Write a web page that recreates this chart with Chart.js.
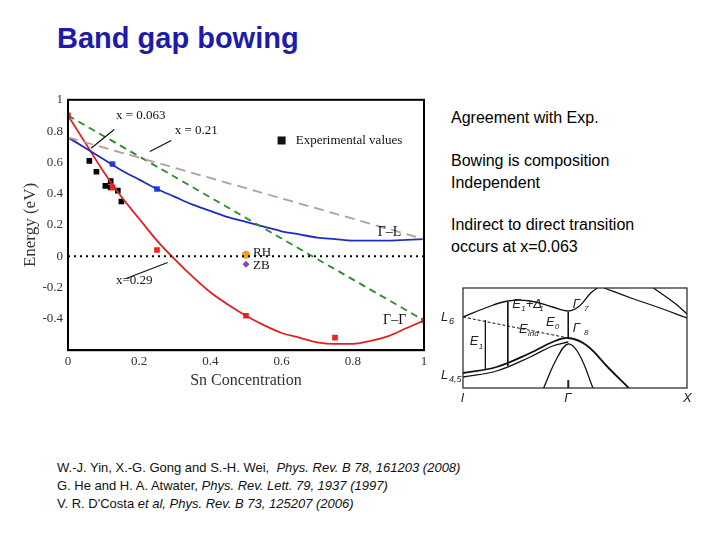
<!DOCTYPE html>
<html><head><meta charset="utf-8">
<script src="https://cdn.jsdelivr.net/npm/chart.js@4/dist/chart.umd.min.js"></script>
<style>
body{margin:0;width:720px;height:540px;background:#fff;position:relative;font-family:"Liberation Sans",Arial,sans-serif;overflow:hidden}
.t{position:absolute;left:57px;top:22px;font-size:29px;font-weight:bold;color:#1c1ca8}
.r{position:absolute;left:451px;font-size:16px;line-height:22px;color:#000}
.ref{position:absolute;left:57px;top:459px;font-size:13px;line-height:18px;color:#111}
#c1{position:absolute;left:10px;top:90px}
#c2{position:absolute;left:430px;top:280px}
</style></head><body>
<div class="t">Band gap bowing</div>
<div class="r" style="top:107px">Agreement with Exp.</div>
<div class="r" style="top:150px">Bowing is composition<br>Independent</div>
<div class="r" style="top:214px">Indirect to direct transition<br>occurs at x=0.063</div>
<div class="ref">W.-J. Yin, X.-G. Gong and S.-H. Wei, &nbsp;<i>Phys. Rev. B 78, 161203 (2008)</i><br>G. He and H. A. Atwater, <i>Phys. Rev. Lett. 79, 1937 (1997)</i><br>V. R. D'Costa <i>et al, Phys. Rev. B 73, 125207 (2006)</i></div>
<canvas id="c1" width="425" height="300"></canvas>
<canvas id="c2" width="275" height="130"></canvas>
<script>
const curveX=[0,0.05,0.1,0.15,0.2,0.25,0.3,0.35,0.4,0.45,0.5,0.55,0.6,0.65,0.7,0.75,0.8,0.85,0.9,0.95,1];
const ggCurve=[0.90,0.72,0.54,0.38,0.24,0.10,-0.02,-0.13,-0.23,-0.31,-0.38,-0.44,-0.49,-0.52,-0.55,-0.56,-0.56,-0.54,-0.51,-0.46,-0.41];
const glCurve=[0.76,0.69,0.62,0.55,0.49,0.43,0.38,0.33,0.29,0.25,0.22,0.19,0.16,0.14,0.12,0.11,0.10,0.10,0.10,0.105,0.11];
const ggX=[0,0.125,0.25,0.5,0.75,1];
const ggVals=[0.90,0.44,0.04,-0.38,-0.52,-0.41];
const glX=[0.125,0.25];
const glVals=[0.59,0.43];
const expX=[0.06,0.08,0.105,0.12,0.14,0.15,0.12];
const expVals=[0.61,0.54,0.45,0.48,0.42,0.35,0.44];
const greenLine=[[0,0.90],[1,-0.41]];
const pinkLine=[[0,0.76],[1,0.11]];
const rh=[0.5,0.01], zb=[0.5,-0.05];
const yTicks=[1,0.8,0.6,0.4,0.2,0,-0.2,-0.4];
const xTicks=[0,0.2,0.4,0.6,0.8,1];
const pts=(xs,ys)=>xs.map((x,i)=>({x:x,y:ys[i]}));
const serif='"Liberation Serif","Times New Roman",serif';
const fmt=v=>String(+(+v).toFixed(1));

const annot={id:'annot',afterDatasetsDraw(ch){
 const c=ch.ctx,X=v=>ch.scales.x.getPixelForValue(v),Y=v=>ch.scales.y.getPixelForValue(v);
 c.save();c.fillStyle='#111';c.strokeStyle='#111';c.lineWidth=1.2;c.font='13px '+serif;
 const lead=(t,tx,ty,x1,y1,x2,y2)=>{c.fillText(t,X(tx),Y(ty));c.beginPath();c.moveTo(X(x1),Y(y1));c.lineTo(X(x2),Y(y2));c.stroke();};
 lead('x = 0.063',0.135,0.88,0.13,0.81,0.065,0.69);
 lead('x = 0.21',0.3,0.78,0.29,0.74,0.23,0.67);
 lead('x=0.29',0.135,-0.18,0.165,-0.14,0.28,-0.04);
 c.fillText('Experimental values',X(0.64),Y(0.72));
 c.fillRect(X(0.6)-4,Y(0.74)-4,8,8);
 c.fillText('RH',X(0.52),Y(0.0));c.fillText('ZB',X(0.52),Y(-0.08));
 c.font='14px '+serif;
 c.fillText('Γ–L',X(0.87),Y(0.13));c.fillText('Γ–Γ',X(0.885),Y(-0.43));
 c.restore();}};

new Chart(document.getElementById('c1'),{type:'scatter',
 data:{datasets:[
  {data:[{x:0,y:0},{x:1,y:0}],showLine:true,borderColor:'#000',borderWidth:2,borderDash:[2,4],pointRadius:0},
  {data:pinkLine.map(p=>({x:p[0],y:p[1]})),showLine:true,borderColor:'#b89c9c',borderWidth:1.8,borderDash:[10,6],pointRadius:0},
  {data:greenLine.map(p=>({x:p[0],y:p[1]})),showLine:true,borderColor:'#2a8a2a',borderWidth:1.8,borderDash:[7,5],pointRadius:0},
  {data:pts(curveX,glCurve),showLine:true,borderColor:'#1c2ec0',borderWidth:1.8,pointRadius:0,cubicInterpolationMode:'monotone'},
  {data:pts(curveX,ggCurve),showLine:true,borderColor:'#e02020',borderWidth:1.8,pointRadius:0,cubicInterpolationMode:'monotone'},
  {data:pts(glX,glVals),pointStyle:'rect',pointRadius:4,backgroundColor:'#2244ee',borderWidth:0},
  {data:pts(ggX,ggVals),pointStyle:'rect',pointRadius:4,backgroundColor:'#ee2222',borderWidth:0},
  {data:pts(expX,expVals),pointStyle:'rect',pointRadius:4,backgroundColor:'#000',borderWidth:0},
  {data:[{x:rh[0],y:rh[1]}],pointRadius:4,backgroundColor:'#f0a020',borderWidth:0},
  {data:[{x:zb[0],y:zb[1]}],pointStyle:'rectRot',pointRadius:3.5,backgroundColor:'#9040c0',borderWidth:0}
 ]},
 options:{responsive:false,animation:false,events:[],layout:{padding:{left:10,right:11,top:6}},
  plugins:{legend:{display:false},tooltip:{enabled:false}},
  scales:{
   x:{type:'linear',min:0,max:1,afterBuildTicks:a=>{a.ticks=xTicks.map(v=>({value:v}))},
      grid:{display:false,tickLength:3},border:{color:'#000',width:2},
      ticks:{color:'#333',font:{family:serif,size:13},padding:1,callback:fmt},
      title:{display:true,text:'Sn Concentration',color:'#333',font:{family:serif,size:16},padding:0}},
   y:{type:'linear',min:-0.6,max:1,afterBuildTicks:a=>{a.ticks=yTicks.map(v=>({value:v}))},
      grid:{display:false,tickLength:3},border:{color:'#000',width:2},
      ticks:{color:'#333',font:{family:serif,size:13},padding:2,callback:fmt},
      title:{display:true,text:'Energy (eV)',color:'#333',font:{family:serif,size:17},padding:0}}
  }},
 plugins:[annot,{id:'box',afterDraw(ch){const a=ch.chartArea,c=ch.ctx;c.save();c.strokeStyle='#000';c.lineWidth=2;c.strokeRect(a.left,a.top,a.right-a.left,a.bottom-a.top);c.restore();}}]
});

// inset band diagram
const condA=[[0,0.71],[0.1,0.8],[0.2,0.87],[0.3,0.87],[0.4,0.81],[0.47,0.77],[0.52,0.82],[0.57,0.95],[0.6,1.0]];
const condB=[[0.63,1],[0.75,0.9],[0.88,0.8],[1,0.7]];
const condC=[[0.85,1],[0.95,0.84],[1,0.74]];
const valA=[[0,0.15],[0.15,0.21],[0.3,0.35],[0.4,0.46],[0.47,0.5],[0.55,0.43],[0.65,0.2],[0.74,0]];
const valB=[[0,0.11],[0.15,0.17],[0.3,0.31],[0.4,0.42],[0.47,0.46]];
const valC=[[0.36,0],[0.42,0.3],[0.47,0.44],[0.52,0.33],[0.58,0]];
const indLine=[[0,0.71],[0.47,0.5]];
const e1=[[0.1,0.68],[0.1,0.19]], e1d=[[0.2,0.86],[0.2,0.22]], e0=[[0.47,0.76],[0.47,0.51]];
const P=a=>a.map(p=>({x:p[0],y:p[1]}));
const L=(a,o)=>Object.assign({data:P(a),showLine:true,borderColor:'#111',borderWidth:1.3,pointRadius:0,tension:0.4},o||{});
const inLab={id:'inlab',afterDraw(ch){const c=ch.ctx,a=ch.chartArea,X=v=>ch.scales.x.getPixelForValue(v),Y=v=>ch.scales.y.getPixelForValue(v);
 c.save();c.strokeStyle='#222';c.lineWidth=1.2;c.strokeRect(a.left,a.top,a.right-a.left,a.bottom-a.top);
 c.fillStyle='#222';c.font='italic 13px "Liberation Sans",Arial';
 c.fillText('L',a.left-22,Y(0.71)+4);c.font='italic 9px Arial';c.fillText('6',a.left-14,Y(0.71)+7);
 c.font='italic 13px Arial';c.fillText('L',a.left-22,Y(0.13)+4);c.font='italic 9px Arial';c.fillText('4,5',a.left-14,Y(0.13)+7);
 c.font='italic 13px Arial';c.fillText('l',a.left-2,a.bottom+14);c.fillText('Γ',X(0.47)-4,a.bottom+14);c.fillText('X',a.right-4,a.bottom+14);
 c.fillText('E',X(0.03),Y(0.43));c.fillText('E',X(0.22),Y(0.8));c.fillText('+Δ',X(0.28),Y(0.8));c.fillText('E',X(0.37),Y(0.62));c.fillText('E',X(0.25),Y(0.55));
 c.fillText('Γ',X(0.49),Y(0.8));c.fillText('Γ',X(0.49),Y(0.56));
 c.font='italic 8px Arial';c.fillText('1',X(0.07),Y(0.39));c.fillText('1',X(0.26),Y(0.77));c.fillText('1',X(0.34),Y(0.77));c.fillText('0',X(0.41),Y(0.59));c.fillText('ind',X(0.29),Y(0.52));c.fillText('7',X(0.54),Y(0.77));c.fillText('8',X(0.54),Y(0.53));
 c.fillRect(X(0.47)-1,a.bottom-8,2,8);
 c.restore();}};
new Chart(document.getElementById('c2'),{type:'scatter',
 data:{datasets:[L(condA),L(condB),L(condC),L(valA,{borderWidth:1.8}),L(valB),L(valC),
  L(indLine,{borderDash:[3,2],borderWidth:1,tension:0}),
  L(e1,{tension:0,borderWidth:1}),L(e1d,{tension:0,borderWidth:1}),L(e0,{tension:0,borderWidth:1})]},
 options:{responsive:false,animation:false,events:[],layout:{padding:{left:33,right:18,top:8,bottom:22}},
  plugins:{legend:{display:false},tooltip:{enabled:false}},
  scales:{x:{type:'linear',min:0,max:1,display:false},y:{type:'linear',min:0,max:1,display:false}}},
 plugins:[inLab]});
</script></body></html>
